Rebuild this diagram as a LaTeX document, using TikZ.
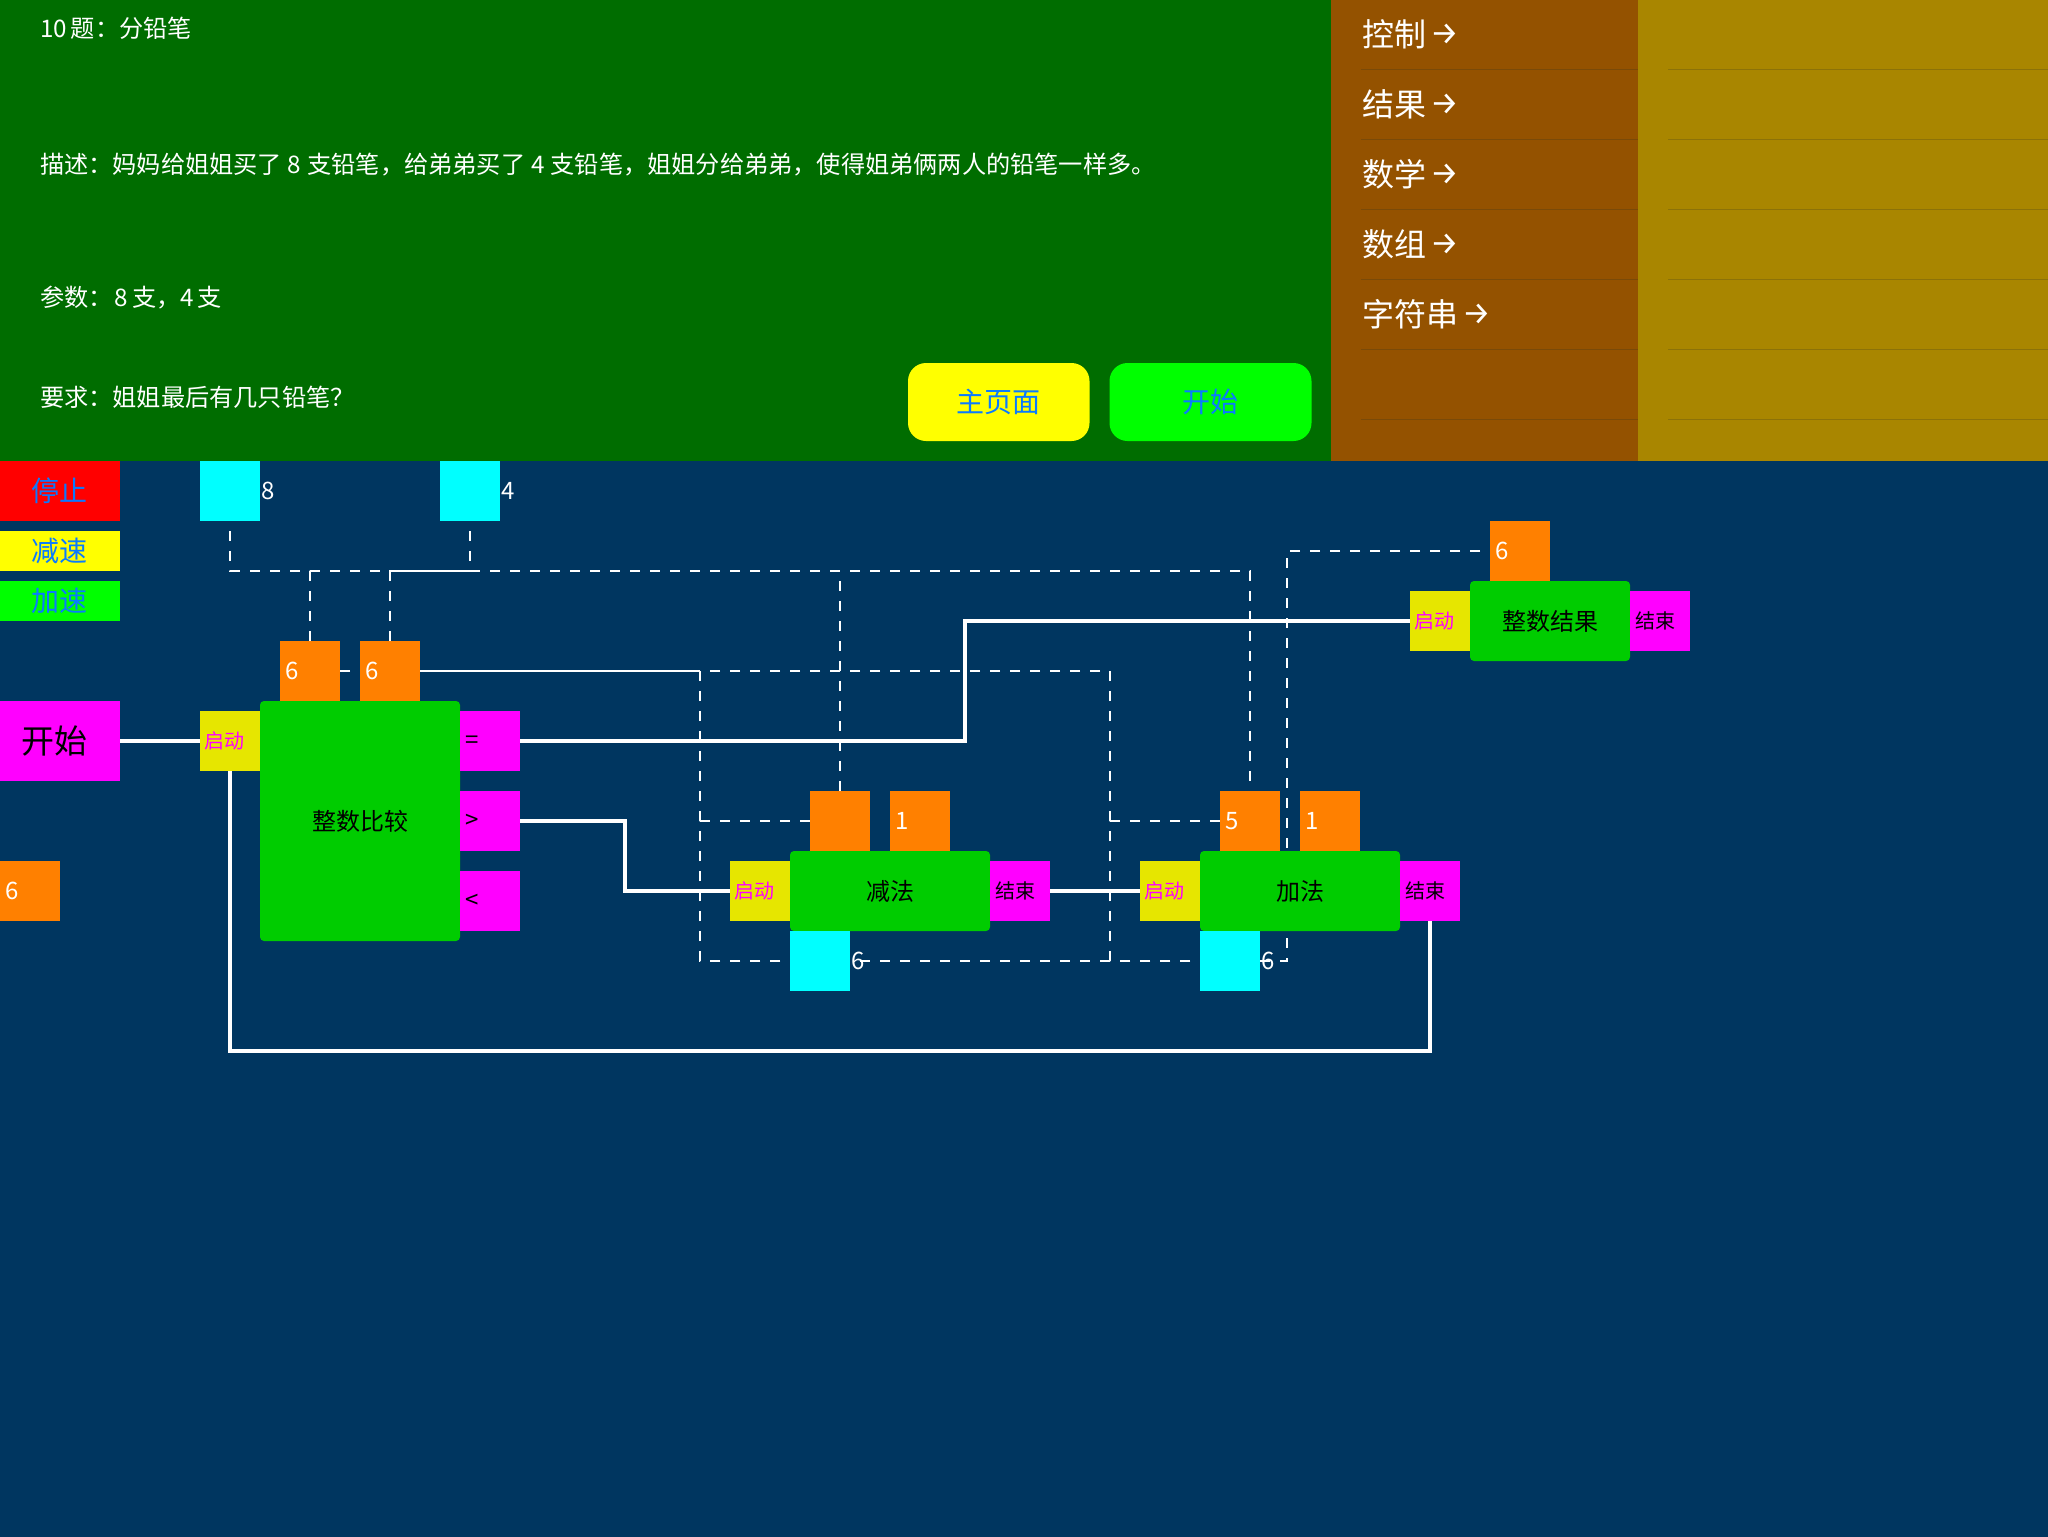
\documentclass[tikz,border=0pt]{standalone}
\usepackage{fontspec}
\setmainfont{Noto Sans CJK SC}
\newfontfamily\arrowfont{Fira Sans}
\pgfdeclarelayer{bgfill}
\pgfdeclarelayer{wires}
\pgfsetlayers{bgfill,wires,main}
\definecolor{navy}{RGB}{0,54,96}
\definecolor{topgreen}{RGB}{0,109,0}
\definecolor{topbrown}{RGB}{148,82,0}
\definecolor{topgold}{RGB}{169,134,0}
\definecolor{sepbrown}{RGB}{122,74,8}
\definecolor{sepgold}{RGB}{140,114,8}
\definecolor{blockgreen}{RGB}{0,204,0}
\definecolor{portorange}{RGB}{255,128,0}
\definecolor{startyellow}{RGB}{230,230,0}
\definecolor{btnblue}{RGB}{10,122,255}
\definecolor{purecyan}{RGB}{0,255,255}
\definecolor{puremagenta}{RGB}{255,0,255}
\definecolor{pureyellow}{RGB}{255,255,0}
\definecolor{purelime}{RGB}{0,255,0}
\definecolor{purered}{RGB}{255,0,0}
\newcommand{\fsz}[1]{\fontsize{#1}{#1}\selectfont}
\newcommand{\dsp}{\hspace{3pt}}
\newcommand{\csym}[1]{\rule[-1.2pt]{0pt}{10pt}{\fsz{12}#1}}
\newcommand{\marrow}{\hspace{2pt}\raisebox{0.8pt}{\arrowfont →}}
\tikzset{
  basecell/.style={rectangle,anchor=north west,outer sep=0pt,inner ysep=0pt},
  leftcell/.style={basecell,inner xsep=2.5pt,text width=25pt,minimum height=30pt,align=left},
  valcell/.style={leftcell,fill=portorange,text=white,font=\fsz{12}},
  outcell/.style={basecell,inner sep=0pt,minimum width=30pt,minimum height=30pt,fill=purecyan},
  outval/.style={anchor=west,inner sep=0pt,outer sep=0pt,xshift=0.5pt,text=white,font=\fsz{12}},
  startcell/.style={leftcell,inner xsep=2pt,text width=26pt,fill=startyellow,text=puremagenta,font=\fsz{10}},
  endcell/.style={leftcell,inner xsep=2.5pt,fill=puremagenta,text=black,font=\fsz{10}},
  block/.style={basecell,inner sep=0pt,fill=blockgreen,rounded corners=2pt,text=black,font=\fsz{12},minimum width=100pt,minimum height=40pt,align=center},
  ctrl/.style={basecell,inner sep=0pt,minimum width=60pt,text=btnblue,font=\fsz{14},align=center},
  button/.style={basecell,inner sep=0pt,rounded corners=9pt,minimum height=39pt,text=btnblue,font=\fsz{14},align=center},
  info/.style={anchor=west,inner sep=0pt,outer sep=0pt,text=white,font=\fsz{12.1}},
  menu/.style={anchor=west,inner sep=0pt,outer sep=0pt,text=white,font=\fsz{16}},
  thickwire/.style={draw=white,line width=2pt,line join=miter},
  dashwire/.style={draw=white,line width=1pt,line join=miter,dash pattern=on 5pt off 5pt,dash phase=5pt}
}
\begin{document}
\begin{tikzpicture}[x=0.5pt,y=-0.5pt]
\useasboundingbox (0,0) rectangle (2048,1536);
\begin{pgfonlayer}{bgfill}
  \fill[navy] (-10,-10) rectangle (2058,1546);
  \fill[topgreen] (-10,-10) rectangle (1331.2,461);
  \fill[topbrown] (1331.2,-10) rectangle (1638.4,461);
  \fill[topgold] (1638.4,-10) rectangle (2058,461);
  \foreach \k in {1,...,6}{
    \draw[sepbrown,line width=0.5pt] (1361,70*\k-0.5) -- (1638.4,70*\k-0.5);
    \draw[sepgold,line width=0.5pt] (1668,70*\k-0.5) -- (2058,70*\k-0.5);
  }
\end{pgfonlayer}

% top panel text
\node[info] (t1) at (40,28) {10\hspace{2pt}题：分铅笔};
\node[info] (t2) at (40,165) {描述：妈妈给姐姐买了\dsp 8\dsp 支铅笔，给弟弟买了\dsp 4\dsp 支铅笔，姐姐分给弟弟，使得姐弟俩两人的铅笔一样多。};
\node[info] (t3) at (40,298) {参数：\hspace{1pt}8\hspace{2pt}支，4\hspace{2pt}支};
\node[info] (t4) at (40,397) {要求：姐姐最后有几只铅笔？};
\node[button,fill=pureyellow,minimum width=90.75pt] (home) at (908,363) {主页面};
\node[button,fill=purelime,minimum width=101pt] (go) at (1109.5,363) {开始};
\node[menu] (m1) at (1362,34) {控制\marrow};
\node[menu] (m2) at (1362,104) {结果\marrow};
\node[menu] (m3) at (1362,174) {数学\marrow};
\node[menu] (m4) at (1362,244) {数组\marrow};
\node[menu] (m5) at (1362,314) {字符串\marrow};

\begin{scope}[yshift=-0.5pt]
% left controls
\node[ctrl,fill=purered,minimum height=30pt] (stopb) at (0,460) {停止};
\node[ctrl,fill=pureyellow,minimum height=20pt] (slow) at (0,530) {减速};
\node[ctrl,fill=purelime,minimum height=20pt] (fast) at (0,580) {加速};
\node[ctrl,fill=puremagenta,minimum height=40pt,text=black,font=\fsz{16.5}] (run) at (0,700) {开始\hspace{6pt}};
\node[valcell] (free) at (0,860) {6};

% variables
\node[outcell] (v8) at (200,460) {};
\node[outval] (v8t) at (v8.east) {8};
\node[outcell] (v4) at (440,460) {};
\node[outval] (v4t) at (v4.east) {4};

% compare block
\node[block,minimum height=120pt] (cmp) at (260,700) {整数比较};
\node[startcell] (cmps) at (200,710) {启动};
\node[valcell] (cmpa) at (280,640) {6};
\node[valcell] (cmpb) at (360,640) {6};
\node[endcell] (cmpe) at (460,710) {\csym{=}};
\node[endcell] (cmpg) at (460,790) {\csym{>}};
\node[endcell] (cmpl) at (460,870) {\csym{<}};

% subtract block
\node[block] (sub) at (790,850) {减法};
\node[startcell] (subs) at (730,860) {启动};
\node[endcell] (sube) at (990,860) {结束};
\node[valcell] (suba) at (810,790) {};
\node[valcell] (subb) at (890,790) {1};
\node[outcell] (subo) at (790,930) {};
\node[outval] (subt) at (subo.east) {6};

% add block
\node[block] (add) at (1200,850) {加法};
\node[startcell] (adds) at (1140,860) {启动};
\node[endcell] (adde) at (1400,860) {结束};
\node[valcell] (adda) at (1220,790) {5};
\node[valcell] (addb) at (1300,790) {1};
\node[outcell] (addo) at (1200,930) {};
\node[outval] (addt) at (addo.east) {6};

% result block
\node[block,minimum width=80pt] (res) at (1470,580) {整数结果};
\node[startcell] (ress) at (1410,590) {启动};
\node[endcell] (rese) at (1630,590) {结束};
\node[valcell] (resa) at (1490,520) {6};

% routing points
\coordinate (j8) at (230,570);
\coordinate (j4) at (470,570);
\coordinate (ja) at (310,570);
\coordinate (jb) at (390,570);
\coordinate (js) at (840,570);
\coordinate (jt) at (1250,570);
\coordinate (l1) at (700,960);
\coordinate (l2) at (700,820);
\coordinate (l3) at (700,670);
\coordinate (r1) at (1110,960);
\coordinate (r2) at (1110,820);
\coordinate (r3) at (1110,670);
\coordinate (u1) at (1287,550);
\coordinate (u2) at (1287,960);
\coordinate (g1) at (965,740);
\coordinate (g2) at (965,620);
\coordinate (h1) at (625,820);
\coordinate (h2) at (625,890);
\coordinate (b1) at (1430,1050);
\coordinate (b2) at (230,1050);
\end{scope}

\begin{pgfonlayer}{wires}
  % dashed data wires
  \draw[dashwire] (v8.south) -- (j8) -- (ja) -- (cmpa.north);
  \draw[dashwire] (v8.south) -- (j8) -- (js) -- (suba.north);
  \draw[dashwire] (v4.south) -- (j4) -- (jb) -- (cmpb.north);
  \draw[dashwire] (v4.south) -- (j4) -- (jt) -- (adda.north);
  \draw[dashwire] (subo.west) -- (l1) -- (l2) -- (suba.west);
  \draw[dashwire] (subo.west) -- (l1) -- (l3) -- (cmpa.east);
  \draw[dashwire] (addo.west) -- (r1) -- (r2) -- (adda.west);
  \draw[dashwire] (addo.west) -- (r1) -- (r3) -- (cmpb.east);
  \draw[dashwire] (subo.east) -- (r1);
  \draw[dashwire] (resa.west) -- (u1) -- (u2) -- (addo.east);
  % solid control wires
  \draw[thickwire] (run.east) -- (cmps.west);
  \draw[thickwire] (cmpe.east) -- (g1) -- (g2) -- (ress.west);
  \draw[thickwire] (cmpg.east) -- (h1) -- (h2) -- (subs.west);
  \draw[thickwire] (sube.east) -- (adds.west);
  \draw[thickwire] (adde.south) -- (b1) -- (b2) -- (cmps.south);
\end{pgfonlayer}
\end{tikzpicture}
\end{document}
